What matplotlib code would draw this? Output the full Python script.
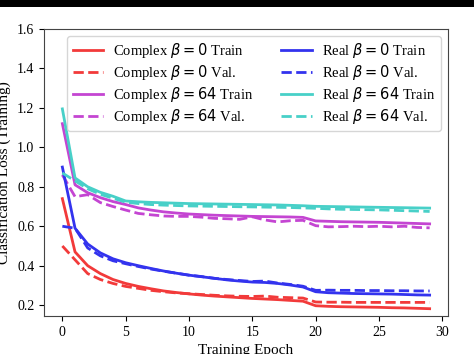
import matplotlib
matplotlib.use("Agg")
import matplotlib.pyplot as plt
from matplotlib.patches import Rectangle

epochs = list(range(30))

complex0_train = [0.74, 0.47, 0.40, 0.36, 0.33, 0.31, 0.295, 0.283, 0.272, 0.264, 0.257, 0.251, 0.246, 0.242, 0.238, 0.234, 0.231, 0.228, 0.224, 0.220, 0.197, 0.194, 0.192, 0.191, 0.190, 0.189, 0.187, 0.186, 0.184, 0.182]
complex0_val = [0.50, 0.43, 0.36, 0.33, 0.31, 0.295, 0.285, 0.275, 0.268, 0.262, 0.258, 0.254, 0.250, 0.247, 0.245, 0.244, 0.246, 0.240, 0.238, 0.236, 0.216, 0.215, 0.215, 0.214, 0.214, 0.214, 0.214, 0.214, 0.214, 0.214]

real0_train = [0.90, 0.59, 0.51, 0.465, 0.435, 0.415, 0.400, 0.386, 0.373, 0.362, 0.352, 0.344, 0.336, 0.328, 0.322, 0.317, 0.315, 0.310, 0.302, 0.292, 0.268, 0.263, 0.261, 0.259, 0.258, 0.257, 0.256, 0.254, 0.252, 0.251]
real0_val = [0.60, 0.59, 0.49, 0.450, 0.425, 0.410, 0.396, 0.383, 0.372, 0.362, 0.352, 0.345, 0.336, 0.330, 0.325, 0.320, 0.322, 0.312, 0.305, 0.296, 0.275, 0.276, 0.275, 0.275, 0.274, 0.274, 0.273, 0.273, 0.272, 0.272]

complex64_train = [1.12, 0.81, 0.77, 0.745, 0.725, 0.71, 0.693, 0.682, 0.673, 0.667, 0.662, 0.659, 0.656, 0.654, 0.652, 0.650, 0.649, 0.648, 0.647, 0.645, 0.627, 0.625, 0.623, 0.622, 0.621, 0.620, 0.618, 0.616, 0.614, 0.612]
complex64_val = [0.86, 0.75, 0.76, 0.72, 0.70, 0.682, 0.665, 0.658, 0.652, 0.650, 0.650, 0.646, 0.640, 0.638, 0.635, 0.648, 0.632, 0.622, 0.628, 0.630, 0.603, 0.597, 0.598, 0.600, 0.598, 0.600, 0.597, 0.600, 0.594, 0.592]

real64_train = [1.195, 0.845, 0.80, 0.772, 0.752, 0.728, 0.724, 0.721, 0.719, 0.717, 0.715, 0.714, 0.713, 0.712, 0.711, 0.710, 0.709, 0.708, 0.706, 0.704, 0.701, 0.700, 0.699, 0.698, 0.697, 0.696, 0.695, 0.694, 0.693, 0.692]
real64_val = [0.87, 0.83, 0.79, 0.762, 0.742, 0.722, 0.715, 0.710, 0.707, 0.705, 0.703, 0.702, 0.701, 0.700, 0.699, 0.698, 0.697, 0.696, 0.695, 0.693, 0.691, 0.688, 0.686, 0.685, 0.684, 0.683, 0.681, 0.679, 0.677, 0.675]

plt.rcParams['font.family'] = ['Liberation Serif', 'DejaVu Serif']
plt.rcParams['font.size'] = 10

fig = plt.figure(figsize=(4.74, 3.54), dpi=100)
ax = fig.add_axes([44/474, 1-316/354, (448-44)/474, (316-29)/354])
fig.patches.append(Rectangle((0, 1-7/354), 1, 7/354, transform=fig.transFigure,
                             facecolor='black', edgecolor='none', zorder=10))

c_red = '#f23a3a'
c_blue = '#3333ee'
c_mag = '#c445d2'
c_cyan = '#48d0c8'
lw = 2.0

ax.plot(epochs, complex0_train, color=c_red, lw=lw, label=r'Complex $\beta = 0$ Train')
ax.plot(epochs, complex0_val, color=c_red, lw=lw, ls='--', label=r'Complex $\beta = 0$ Val.')
ax.plot(epochs, complex64_train, color=c_mag, lw=lw, label=r'Complex $\beta = 64$ Train')
ax.plot(epochs, complex64_val, color=c_mag, lw=lw, ls='--', label=r'Complex $\beta = 64$ Val.')
ax.plot(epochs, real0_train, color=c_blue, lw=lw, label=r'Real $\beta = 0$ Train')
ax.plot(epochs, real0_val, color=c_blue, lw=lw, ls='--', label=r'Real $\beta = 0$ Val.')
ax.plot(epochs, real64_train, color=c_cyan, lw=lw, label=r'Real $\beta = 64$ Train')
ax.plot(epochs, real64_val, color=c_cyan, lw=lw, ls='--', label=r'Real $\beta = 64$ Val.')

ax.set_xlim(-1.45, 30.45)
ax.set_ylim(0.145, 1.6)
ax.set_xticks([0, 5, 10, 15, 20, 25, 30])
ax.set_yticks([0.2, 0.4, 0.6, 0.8, 1.0, 1.2, 1.4, 1.6])
ax.set_xlabel('Training Epoch', fontsize=11)
ax.set_ylabel('Classification Loss (Training)', fontsize=11)
for s in ax.spines.values():
    s.set_color('#444444')

ax.legend(ncol=2, loc='upper right', fontsize=10.5, handlelength=2.1,
          handletextpad=0.7, columnspacing=1.9, labelspacing=0.2,
          borderpad=0.35, framealpha=0.8)

fig.savefig('out.png', dpi=100)
